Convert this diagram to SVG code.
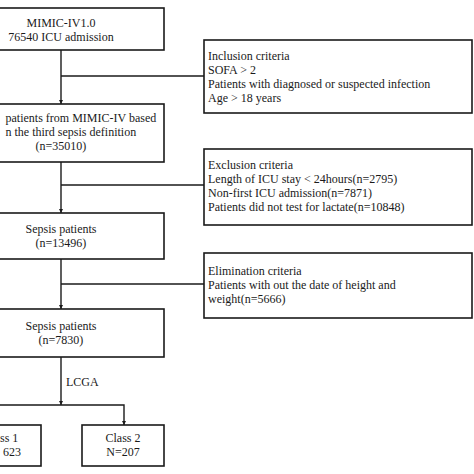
<svg xmlns="http://www.w3.org/2000/svg" width="474" height="474" viewBox="0 0 474 474">
<defs>
<style>
.box{fill:#fff;stroke:#1a1a1a;stroke-width:1.6}
.ln{fill:none;stroke:#1a1a1a;stroke-width:1.4}
text{font-family:"Liberation Serif","Times New Roman",serif;font-size:12px;fill:#1a1a1a}
.c{text-anchor:middle}
</style>
<marker id="ah" viewBox="0 0 10 10" refX="10" refY="5" markerWidth="4.5" markerHeight="5" orient="auto" markerUnits="userSpaceOnUse">
<path d="M0,0 L10,5 L0,10 z" fill="#1a1a1a"/>
</marker>
</defs>
<rect width="474" height="474" fill="#fff"/>
<g id="connectors">
<line class="ln" x1="61" y1="50" x2="61" y2="104" marker-end="url(#ah)"/>
<line class="ln" x1="61" y1="76" x2="204" y2="76"/>
<line class="ln" x1="61" y1="162" x2="61" y2="213" marker-end="url(#ah)"/>
<line class="ln" x1="61" y1="185" x2="204" y2="185"/>
<line class="ln" x1="61" y1="259" x2="61" y2="309" marker-end="url(#ah)"/>
<line class="ln" x1="61" y1="284" x2="204" y2="284"/>
<line class="ln" x1="61" y1="357" x2="61" y2="405" marker-end="url(#ah)"/>
<polyline class="ln" points="-5,405 124,405 124,425" marker-end="url(#ah)"/>
<text x="66" y="386">LCGA</text>
</g>
<g id="n1">
<rect class="box" x="-42" y="8" width="206" height="42"/>
<text class="c" x="61" y="27">MIMIC-IV1.0</text>
<text class="c" x="61" y="40.5">76540 ICU admission</text>
</g>
<g id="n2">
<rect class="box" x="-42" y="104" width="206" height="58"/>
<text x="5.5" y="122">patients from MIMIC-IV  based</text>
<text x="5.5" y="136">n the third sepsis definition</text>
<text class="c" x="61" y="150">(n=35010)</text>
</g>
<g id="n3">
<rect class="box" x="-42" y="213" width="206" height="46"/>
<text class="c" x="61" y="233">Sepsis patients</text>
<text class="c" x="61" y="247">(n=13496)</text>
</g>
<g id="n4">
<rect class="box" x="-42" y="309" width="206" height="48"/>
<text class="c" x="61" y="330">Sepsis patients</text>
<text class="c" x="61" y="344">(n=7830)</text>
</g>
<g id="n5">
<rect class="box" x="-41" y="425" width="82" height="41"/>
<text x="0" y="442">ss 1</text>
<text x="3" y="456">623</text>
</g>
<g id="n6">
<rect class="box" x="82" y="425" width="82" height="41"/>
<text class="c" x="123" y="442">Class 2</text>
<text class="c" x="123" y="456">N=207</text>
</g>
<g id="inc">
<rect class="box" x="204" y="40" width="268" height="73"/>
<text x="208" y="60">Inclusion criteria</text>
<text x="208" y="74">SOFA &gt; 2</text>
<text x="208" y="88">Patients with diagnosed or suspected infection</text>
<text x="208" y="102">Age &gt; 18 years</text>
</g>
<g id="exc">
<rect class="box" x="204" y="149" width="268" height="76"/>
<text x="208" y="169">Exclusion criteria</text>
<text x="208" y="183">Length of ICU stay &lt; 24hours(n=2795)</text>
<text x="208" y="197">Non-first ICU admission(n=7871)</text>
<text x="208" y="211">Patients did not test for lactate(n=10848)</text>
</g>
<g id="elim">
<rect class="box" x="204" y="253" width="268" height="65"/>
<text x="208" y="275">Elimination criteria</text>
<text x="208" y="289">Patients with out the date of height and</text>
<text x="208" y="303">weight(n=5666)</text>
</g>
</svg>
